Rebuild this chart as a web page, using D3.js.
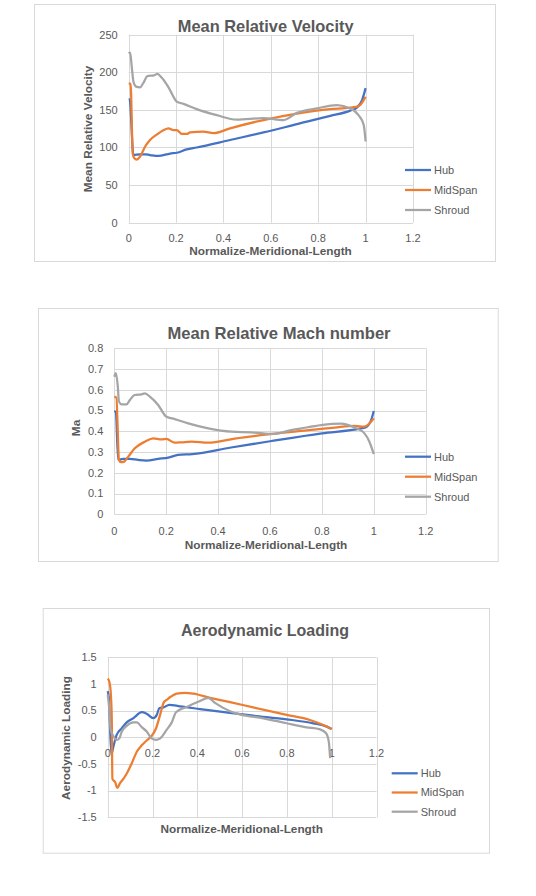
<!DOCTYPE html>
<html>
<head>
<meta charset="utf-8">
<script src="https://cdn.jsdelivr.net/npm/d3@7"></script>
<style>
  body { margin: 0; background: #fff; }
  svg text { font-family: "Liberation Sans", Arial, sans-serif; fill: #595959; }
</style>
</head>
<body>
<svg id="page" width="536" height="896"></svg>
<script>
const seriesNames = ['Hub', 'MidSpan', 'Shroud'];
const seriesColors = ['#4472c4', '#ed7d31', '#a5a5a5'];
const xTicks = [0, 0.2, 0.4, 0.6, 0.8, 1, 1.2];

// chart 1 - velocity
const velTicks = [0, 50, 100, 150, 200, 250];
const velHub = [[0,164],[0.004,164],[0.02,90],[0.048,91],[0.069,91],[0.09,90],[0.125,88.7],[0.175,92],[0.203,93],[0.245,97.5],[0.287,100],[0.428,110],[0.569,120],[0.71,131],[0.851,142],[0.935,149],[0.963,153],[0.985,163],[1.0,179]];
const velMid = [[0,185],[0.008,185],[0.017,92],[0.023,86],[0.034,84],[0.048,88],[0.069,101],[0.09,110],[0.118,117],[0.146,123],[0.168,125.5],[0.189,123],[0.203,123],[0.224,118],[0.245,118],[0.259,120],[0.315,121],[0.358,119],[0.428,125.5],[0.569,136.5],[0.71,145],[0.851,151],[0.935,153],[0.97,155],[0.992,163],[1.0,167.5]];
const velShroud = [[0,225],[0.006,226],[0.013,207],[0.02,187.5],[0.031,181],[0.048,180],[0.062,186],[0.079,195],[0.107,196],[0.121,198],[0.139,193],[0.168,180],[0.203,161],[0.231,158],[0.287,151],[0.372,143],[0.456,137],[0.569,139],[0.654,136.5],[0.71,146],[0.794,152],[0.879,156.5],[0.935,152],[0.97,143],[0.992,130],[1.0,108]];

// chart 2 - mach
const machTicks = [0, 0.1, 0.2, 0.3, 0.4, 0.5, 0.6, 0.7, 0.8];
const machHub = [[0,0.498],[0.006,0.492],[0.015,0.262],[0.035,0.267],[0.06,0.267],[0.092,0.262],[0.124,0.259],[0.169,0.267],[0.208,0.273],[0.246,0.286],[0.3,0.29],[0.45,0.322],[0.6,0.352],[0.8,0.39],[0.95,0.414],[0.97,0.42],[0.99,0.455],[1.0,0.498]];
const machMid = [[0,0.567],[0.008,0.562],[0.018,0.262],[0.026,0.251],[0.038,0.254],[0.054,0.278],[0.079,0.318],[0.118,0.35],[0.15,0.366],[0.182,0.361],[0.201,0.363],[0.233,0.345],[0.259,0.347],[0.297,0.35],[0.362,0.345],[0.464,0.365],[0.592,0.385],[0.721,0.402],[0.849,0.418],[0.926,0.426],[0.964,0.422],[0.983,0.438],[1.0,0.463]];
const machShroud = [[0,0.663],[0.006,0.68],[0.013,0.623],[0.018,0.543],[0.028,0.53],[0.047,0.53],[0.06,0.551],[0.079,0.575],[0.105,0.578],[0.118,0.583],[0.137,0.567],[0.169,0.527],[0.201,0.47],[0.233,0.459],[0.285,0.438],[0.362,0.414],[0.451,0.398],[0.528,0.395],[0.618,0.387],[0.669,0.402],[0.721,0.414],[0.797,0.43],[0.874,0.437],[0.926,0.418],[0.964,0.39],[0.983,0.35],[1.0,0.29]];

// chart 3 - loading
const loadTicks = [-1.5, -1, -0.5, 0, 0.5, 1, 1.5];
const loadHub = [[0,0.867],[0.006,0.71],[0.01,0.23],[0.018,-0.3],[0.025,-0.18],[0.04,0.044],[0.063,0.17],[0.085,0.28],[0.115,0.36],[0.152,0.47],[0.174,0.44],[0.204,0.36],[0.219,0.42],[0.231,0.55],[0.249,0.56],[0.275,0.61],[0.323,0.58],[0.412,0.53],[0.546,0.456],[0.65,0.405],[0.799,0.337],[0.918,0.262],[0.978,0.2],[1.0,0.156]];
const loadMid = [[0,1.1],[0.006,1.06],[0.013,0.87],[0.018,0.39],[0.021,-0.78],[0.033,-0.84],[0.043,-0.95],[0.055,-0.86],[0.07,-0.78],[0.085,-0.68],[0.107,-0.49],[0.13,-0.27],[0.152,-0.15],[0.174,-0.06],[0.196,0.025],[0.216,0.17],[0.234,0.42],[0.251,0.66],[0.263,0.7],[0.281,0.76],[0.308,0.82],[0.345,0.835],[0.382,0.82],[0.457,0.74],[0.546,0.66],[0.65,0.56],[0.799,0.42],[0.903,0.325],[0.963,0.23],[1.0,0.156]];
const loadShroud = [[0,0.8],[0.006,0.58],[0.013,0.14],[0.025,0.025],[0.04,-0.05],[0.052,-0.02],[0.063,0.11],[0.085,0.215],[0.115,0.28],[0.13,0.28],[0.152,0.19],[0.174,0.11],[0.196,-0.02],[0.216,-0.05],[0.234,-0.02],[0.263,0.14],[0.286,0.28],[0.305,0.47],[0.353,0.57],[0.412,0.68],[0.449,0.74],[0.479,0.645],[0.546,0.49],[0.59,0.43],[0.695,0.356],[0.799,0.263],[0.888,0.188],[0.948,0.15],[0.975,0.075],[0.987,-0.08],[0.993,-0.39]];

const svg = d3.select('#page');

function drawChart(o) {
  // outer frame
  svg.append('rect')
    .attr('x', o.frame[0] + 0.5).attr('y', o.frame[1] + 0.5)
    .attr('width', o.frame[2]).attr('height', o.frame[3])
    .attr('fill', '#fff').attr('stroke', '#d9d9d9');

  const x = d3.scaleLinear().domain([0, 1.2]).range([o.left, o.right]);
  const y = d3.scaleLinear().domain(o.yDomain).range([o.bottom, o.top]);
  const g = svg.append('g');

  // grid
  g.selectAll('.hg').data(o.yTicks).enter().append('line')
    .attr('x1', o.left).attr('x2', o.right)
    .attr('y1', d => Math.round(y(d)) + 0.5).attr('y2', d => Math.round(y(d)) + 0.5)
    .attr('stroke', '#d9d9d9');
  g.selectAll('.vg').data(xTicks).enter().append('line')
    .attr('y1', o.top).attr('y2', o.bottom)
    .attr('x1', d => Math.round(x(d)) + 0.5).attr('x2', d => Math.round(x(d)) + 0.5)
    .attr('stroke', '#d9d9d9');

  // tick labels
  g.selectAll('.yl').data(o.yTicks).enter().append('text')
    .attr('x', o.left - 11).attr('y', d => y(d)).attr('dy', '0.35em')
    .attr('text-anchor', 'end').attr('font-size', 11)
    .text(o.yFmt);
  g.selectAll('.xl').data(xTicks).enter().append('text')
    .attr('x', d => x(d)).attr('y', o.xLabelY)
    .attr('text-anchor', 'middle').attr('font-size', 11)
    .text(d => d);

  // series
  const line = d3.line().x(d => x(d[0])).y(d => y(d[1])).curve(d3.curveMonotoneX);
  o.series.forEach((s, i) => {
    g.append('path').datum(s)
      .attr('d', line)
      .attr('fill', 'none')
      .attr('stroke', seriesColors[i])
      .attr('stroke-width', 2.25)
      .attr('stroke-linejoin', 'round');
  });

  // titles
  svg.append('text').attr('x', o.titleX).attr('y', o.titleY)
    .attr('text-anchor', 'middle').attr('font-size', o.titleSize).attr('font-weight', 'bold')
    .text(o.title);
  svg.append('text').attr('x', o.xTitle[0]).attr('y', o.xTitle[1])
    .attr('text-anchor', 'middle').attr('font-size', 11.8).attr('font-weight', 'bold')
    .text('Normalize-Meridional-Length');
  svg.append('text')
    .attr('transform', `translate(${o.yTitle[0]},${o.yTitle[1]}) rotate(-90)`)
    .attr('text-anchor', 'middle').attr('font-size', 11.8).attr('font-weight', 'bold')
    .text(o.yTitleText);

  // legend
  const lg = svg.append('g').attr('transform', `translate(${o.legend[0]},${o.legend[1]})`);
  seriesNames.forEach((n, i) => {
    const yy = i * o.legendStep;
    lg.append('line').attr('x1', 0).attr('x2', 26).attr('y1', yy).attr('y2', yy)
      .attr('stroke', seriesColors[i]).attr('stroke-width', 2.25);
    lg.append('text').attr('x', 29).attr('y', yy).attr('dy', '0.35em')
      .attr('font-size', 11).text(n);
  });
}

drawChart({
  frame: [34, 4, 461, 257],
  left: 128.7, right: 413, top: 34.7, bottom: 222.7,
  yDomain: [0, 250], yTicks: velTicks, yFmt: d => d,
  xLabelY: 242,
  series: [velHub, velMid, velShroud],
  title: 'Mean Relative Velocity', titleX: 265.7, titleY: 32.3, titleSize: 16.4,
  xTitle: [270.5, 255], yTitle: [92, 129], yTitleText: 'Mean Relative Velocity',
  legend: [405, 170], legendStep: 20
});

drawChart({
  frame: [38, 308, 459.7, 253],
  left: 114.3, right: 425.7, top: 348.3, bottom: 514.3,
  yDomain: [0, 0.8], yTicks: machTicks, yFmt: d => d,
  xLabelY: 535,
  series: [machHub, machMid, machShroud],
  title: 'Mean Relative Mach number', titleX: 279, titleY: 339.3, titleSize: 16.6,
  xTitle: [266, 549.3], yTitle: [80, 428], yTitleText: 'Ma',
  legend: [405, 456.7], legendStep: 20
});

drawChart({
  frame: [42.7, 608, 446.3, 244.7],
  left: 107.7, right: 376.5, top: 657.3, bottom: 817.3,
  yDomain: [-1.5, 1.5], yTicks: loadTicks, yFmt: d => d,
  xLabelY: 756.5,
  series: [loadHub, loadMid, loadShroud],
  title: 'Aerodynamic Loading', titleX: 265, titleY: 635.7, titleSize: 16,
  xTitle: [241.7, 832.7], yTitle: [70, 738], yTitleText: 'Aerodynamic Loading',
  legend: [391.7, 773.3], legendStep: 19.2
});
</script>
</body>
</html>
